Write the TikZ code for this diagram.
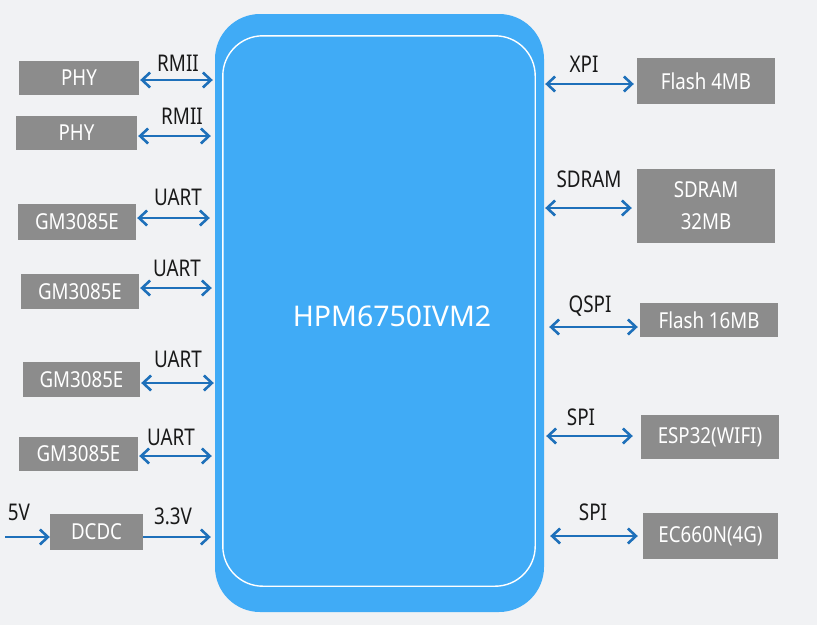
\documentclass[tikz,border=0pt]{standalone}
\usepackage{fontspec}
\setmainfont{Noto Sans}
\newfontfamily\condfont[FakeStretch=0.85]{Noto Sans}
\newfontfamily\lblfont[FakeStretch=0.82]{Noto Sans}
\usetikzlibrary{arrows.meta,calc}
\definecolor{bgc}{RGB}{241,242,244}
\definecolor{chipblue}{RGB}{64,171,246}
\definecolor{arrowblue}{RGB}{30,112,186}
\definecolor{boxgray}{RGB}{140,140,140}
\definecolor{labelc}{RGB}{25,25,25}
\tikzset{
  gbox/.style={fill=boxgray, draw=none, text=white, font=\condfont\fontsize{22}{26}\selectfont, inner sep=0pt, align=center},
  chipbox/.style={fill=chipblue, draw=none, rounded corners=45pt, inner sep=0pt},
  bi/.style={draw=arrowblue, line width=2.6pt, arrows={Straight Barb[length=8pt,width=15pt]-Straight Barb[length=8pt,width=15pt]}},
  uni/.style={draw=arrowblue, line width=2.6pt, arrows={-Straight Barb[length=8pt,width=15pt]}},
  lbl/.style={text=labelc, font=\lblfont\fontsize{23}{24}\selectfont, inner sep=0pt}
}
\begin{document}
\begin{tikzpicture}[x=1pt,y=-1pt]
\fill[bgc] (0,0) rectangle (817,625);
\useasboundingbox (0,0) rectangle (817,625);
% central chip
\node[chipbox, minimum width=329pt, minimum height=598pt] (chip) at (379.5,313) {};
\draw[white, line width=1.4pt, rounded corners=40pt] ($(chip.north west)+(8,22)$) rectangle ($(chip.south east)+(-9,-26)$);
\node[text=white, font=\fontsize{28.5}{32}\selectfont, inner sep=0pt] (chiptxt) at (392,316) {HPM6750IVM2};
% left boxes
\node[gbox, minimum width=120pt, minimum height=34pt] (phy1) at (79,78) {PHY};
\node[gbox, minimum width=121pt, minimum height=34pt] (phy2) at (76.5,133) {PHY};
\node[gbox, minimum width=118pt, minimum height=36pt] (gm1) at (77,222) {GM3085E};
\node[gbox, minimum width=118pt, minimum height=35pt] (gm2) at (80,291.5) {GM3085E};
\node[gbox, minimum width=117pt, minimum height=35pt] (gm3) at (81.5,379.5) {GM3085E};
\node[gbox, minimum width=119pt, minimum height=34pt] (gm4) at (78.5,454) {GM3085E};
\node[gbox, minimum width=93pt, minimum height=36pt] (dcdc) at (96.5,532) {DCDC};
\coordinate (vin) at (5,537);
% right boxes
\node[gbox, minimum width=138pt, minimum height=46pt] (flash4) at (706,81) {Flash 4MB};
\node[gbox, minimum width=138pt, minimum height=74pt, align=center] (sdram) at (706,206) {SDRAM\\[6pt]32MB};
\node[gbox, minimum width=138pt, minimum height=34pt] (flash16) at (709,320) {Flash 16MB};
\node[gbox, minimum width=138pt, minimum height=44pt] (esp) at (710,437) {ESP32(WIFI)};
\node[gbox, minimum width=135pt, minimum height=46pt] (ec) at (710.5,536) {EC660N(4G)};
% left arrows
\draw[bi] ($(phy1.east)+(1,2)$) -- ($(phy1.east -| chip.west)+(-2,2)$);
\draw[bi] ($(phy2.east)+(1,3)$) -- ($(phy2.east -| chip.west)+(-4,3)$);
\draw[bi] ($(gm1.east)+(1,-4)$) -- ($(gm1.east -| chip.west)+(-5,-4)$);
\draw[bi] ($(gm2.east)+(1,-3.5)$) -- ($(gm2.east -| chip.west)+(-3,-3.5)$);
\draw[bi] ($(gm3.east)+(1,3.5)$) -- ($(gm3.east -| chip.west)+(-1,3.5)$);
\draw[bi] ($(gm4.east)+(1,2)$) -- ($(gm4.east -| chip.west)+(-3,2)$);
\draw[uni] (vin) -- ($(dcdc.west)+(0,5)$);
\draw[uni] ($(dcdc.east)+(0,5)$) -- ($(dcdc.east -| chip.west)+(-4,5)$);
% right arrows
\draw[bi] ($(flash4.west -| chip.east)+(1,3)$) -- ($(flash4.west)+(-3,3)$);
\draw[bi] ($(sdram.west -| chip.east)+(1,2)$) -- ($(sdram.west)+(-5,2)$);
\draw[bi] ($(flash16.west -| chip.east)+(5,7)$) -- ($(flash16.west)+(-2,7)$);
\draw[bi] ($(esp.west -| chip.east)+(2,-1)$) -- ($(esp.west)+(-8,-1)$);
\draw[bi] ($(ec.west -| chip.east)+(6,0)$) -- ($(ec.west)+(-5,0)$);
% labels
\node[lbl] (l1) at (178,63) {RMII};
\node[lbl] (l2) at (182,116) {RMII};
\node[lbl] (l3) at (178,197) {UART};
\node[lbl] (l4) at (177,268) {UART};
\node[lbl] (l5) at (178,359) {UART};
\node[lbl] (l6) at (171,437) {UART};
\node[lbl] (l7) at (19,512) {5V};
\node[lbl] (l8) at (173,516) {3.3V};
\node[lbl] (r1) at (584,64) {XPI};
\node[lbl] (r2) at (589,179) {SDRAM};
\node[lbl] (r3) at (590,306) {QSPI};
\node[lbl] (r4) at (581,417) {SPI};
\node[lbl] (r5) at (593,512) {SPI};
\end{tikzpicture}
\end{document}
